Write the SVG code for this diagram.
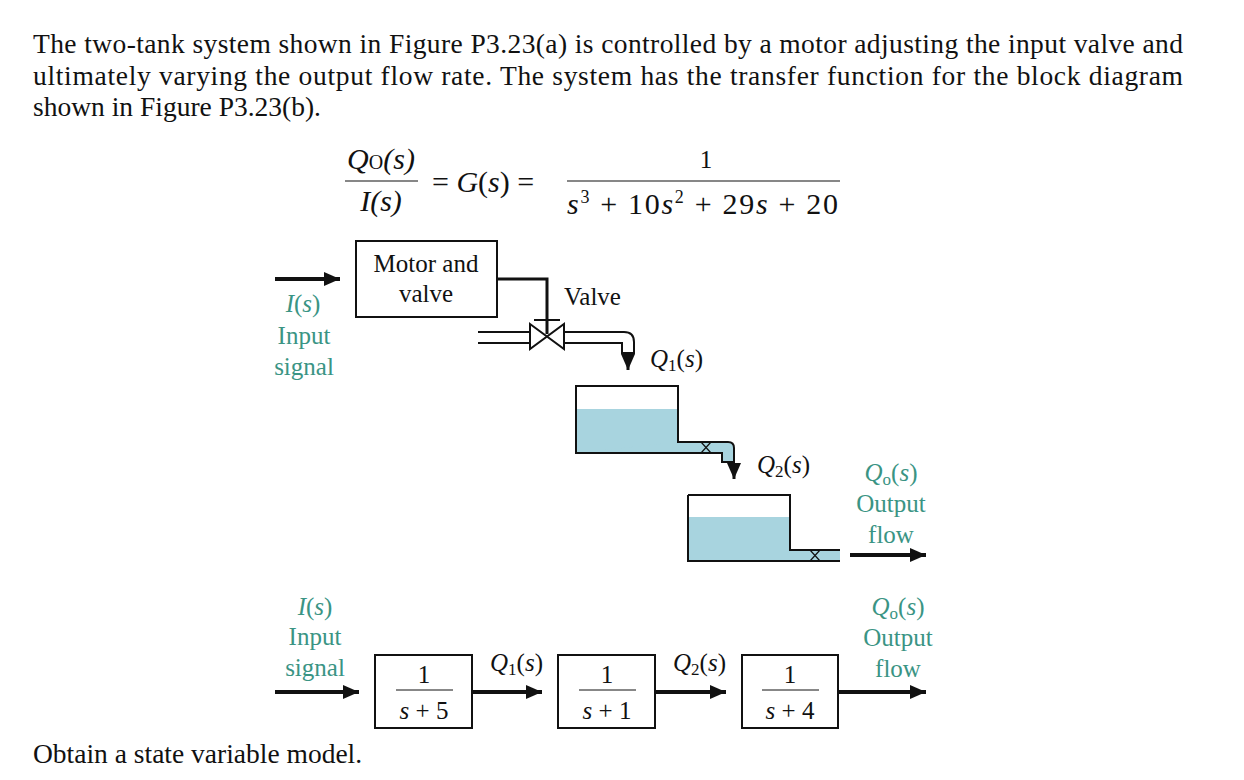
<svg xmlns="http://www.w3.org/2000/svg" width="1244" height="780" viewBox="0 0 1244 780">
<style>
text{font-family:"Liberation Serif","DejaVu Serif",serif;fill:#111}
.p{font-size:27.5px}
.e{font-size:30px}
.m{font-size:25px}
.t{fill:#3a9484;font-size:25px}
.c{text-anchor:middle}
.i{font-style:italic}
.ln{stroke:#111;stroke-width:2;fill:none}
.th{stroke:#111;stroke-width:4;fill:none}
.box{fill:#fff;stroke:#111;stroke-width:2}
</style>
<defs>
<marker id="bh" markerWidth="16" markerHeight="14" refX="16" refY="7" orient="auto" markerUnits="userSpaceOnUse"><path d="M0,0L16,7L0,14z" fill="#111"/></marker>
</defs>
<text class="p" x="33" y="53" textLength="1150" lengthAdjust="spacing">The two-tank system shown in Figure P3.23(a) is controlled by a motor adjusting the input valve and</text>
<text class="p" x="33" y="85" textLength="1150" lengthAdjust="spacing">ultimately varying the output flow rate. The system has the transfer function for the block diagram</text>
<text class="p" x="33" y="116">shown in Figure P3.23(b).</text>
<g id="equation">
<text class="e c i" x="381" y="169">Q<tspan font-style="normal" font-size="20">O</tspan>(s)</text>
<line x1="345" y1="181" x2="418" y2="181" stroke="#111" stroke-width="1.2"/>
<text class="e c i" x="381" y="211">I(s)</text>
<text class="e" x="432" y="192">= <tspan font-style="italic">G</tspan>(<tspan font-style="italic">s</tspan>) =</text>
<text class="m c" x="706" y="168">1</text>
<line x1="567" y1="181" x2="840" y2="181" stroke="#111" stroke-width="1.2"/>
<text class="e" x="567" y="214" textLength="271"><tspan font-style="italic">s</tspan><tspan font-size="18" dy="-11">3</tspan><tspan dy="11"> + 10</tspan><tspan font-style="italic">s</tspan><tspan font-size="18" dy="-11">2</tspan><tspan dy="11"> + 29</tspan><tspan font-style="italic">s</tspan> + 20</text>
</g>
<g id="tank1">
<rect x="576" y="409" width="102" height="44" fill="#a8d4df"/>
<path d="M678,442H728Q734,442 734,448V462H722V453H576" fill="#a8d4df"/>
<path class="ln" d="M576,386V453H722V462H734V448Q734,442 728,442H678V386z"/>
<path d="M701,442L711,453M711,442L701,453" stroke="#111" stroke-width="1.2"/>
</g>
<g id="tank2">
<rect x="688" y="517" width="102" height="44" fill="#a8d4df"/>
<rect x="790" y="550" width="50" height="11" fill="#a8d4df"/>
<path class="ln" d="M688,495V561H840M840,550H790V495H688"/>
<path d="M810,550L820,561M820,550L810,561" stroke="#111" stroke-width="1.2"/>
</g>
<g id="motor">
<rect class="box" x="356" y="241" width="141" height="76"/>
<text class="m c" x="426" y="272">Motor and</text>
<text class="m c" x="426" y="302">valve</text>
</g>
<g id="valve">
<path class="ln" d="M478,332H530M478,343H530"/>
<path class="ln" d="M530,324L564,349V324L530,349z"/>
<path class="ln" d="M534,320H560"/>
<path class="ln" d="M564,332H624Q634,332 634,342V353H622V343H564"/>
<text class="m" x="564" y="305">Valve</text>
</g>
<g id="connectors">
<path class="th" d="M275,279H340" marker-end="url(#bh)"/>
<path class="th" d="M497,279H547V334" style="stroke-width:3"/>
<path class="th" d="M628,357V370" marker-end="url(#bh)" style="stroke-width:3"/>
<path class="th" d="M734,466V479" marker-end="url(#bh)" style="stroke-width:3"/>
<path class="th" d="M850,555H926" marker-end="url(#bh)"/>
<path class="th" d="M275,692H359" marker-end="url(#bh)"/>
<path class="th" d="M472,692H542" marker-end="url(#bh)"/>
<path class="th" d="M655,692H726" marker-end="url(#bh)"/>
<path class="th" d="M838,692H926" marker-end="url(#bh)"/>
</g>
<text class="m i" x="650" y="367">Q<tspan font-style="normal" font-size="17" dy="4">1</tspan><tspan dy="-4" font-style="normal">(</tspan>s<tspan font-style="normal">)</tspan></text>
<text class="m i" x="757" y="473">Q<tspan font-style="normal" font-size="17" dy="4">2</tspan><tspan dy="-4" font-style="normal">(</tspan>s<tspan font-style="normal">)</tspan></text>
<g id="input-label">
<text class="t c i" x="303" y="312">I<tspan font-style="normal">(</tspan>s<tspan font-style="normal">)</tspan></text>
<text class="t c" x="304" y="344">Input</text>
<text class="t c" x="304" y="375">signal</text>
</g>
<g id="output-label">
<text class="t c i" x="891" y="481">Q<tspan font-style="normal" font-size="17" dy="4">o</tspan><tspan dy="-4" font-style="normal">(</tspan>s<tspan font-style="normal">)</tspan></text>
<text class="t c" x="891" y="512">Output</text>
<text class="t c" x="891" y="543">flow</text>
</g>
<g id="b-input-label">
<text class="t c i" x="315" y="615">I<tspan font-style="normal">(</tspan>s<tspan font-style="normal">)</tspan></text>
<text class="t c" x="315" y="645">Input</text>
<text class="t c" x="315" y="676">signal</text>
</g>
<g id="b-output-label">
<text class="t c i" x="898" y="615">Q<tspan font-style="normal" font-size="17" dy="4">o</tspan><tspan dy="-4" font-style="normal">(</tspan>s<tspan font-style="normal">)</tspan></text>
<text class="t c" x="898" y="646">Output</text>
<text class="t c" x="898" y="677">flow</text>
</g>
<g id="block1">
<rect class="box" x="375" y="655" width="97" height="73"/>
<text class="m c" x="424" y="683">1</text>
<line x1="396" y1="690" x2="453" y2="690" stroke="#111"/>
<text class="m c i" x="424" y="719">s <tspan font-style="normal">+ 5</tspan></text>
</g>
<g id="block2">
<rect class="box" x="558" y="655" width="97" height="73"/>
<text class="m c" x="607" y="683">1</text>
<line x1="579" y1="690" x2="636" y2="690" stroke="#111"/>
<text class="m c i" x="607" y="719">s <tspan font-style="normal">+ 1</tspan></text>
</g>
<g id="block3">
<rect class="box" x="742" y="655" width="96" height="73"/>
<text class="m c" x="790" y="683">1</text>
<line x1="762" y1="690" x2="819" y2="690" stroke="#111"/>
<text class="m c i" x="790" y="719">s <tspan font-style="normal">+ 4</tspan></text>
</g>
<text class="m i" x="490" y="671">Q<tspan font-style="normal" font-size="17" dy="4">1</tspan><tspan dy="-4" font-style="normal">(</tspan>s<tspan font-style="normal">)</tspan></text>
<text class="m i" x="673" y="671">Q<tspan font-style="normal" font-size="17" dy="4">2</tspan><tspan dy="-4" font-style="normal">(</tspan>s<tspan font-style="normal">)</tspan></text>
<text class="p" x="33" y="763">Obtain a state variable model.</text>
</svg>
